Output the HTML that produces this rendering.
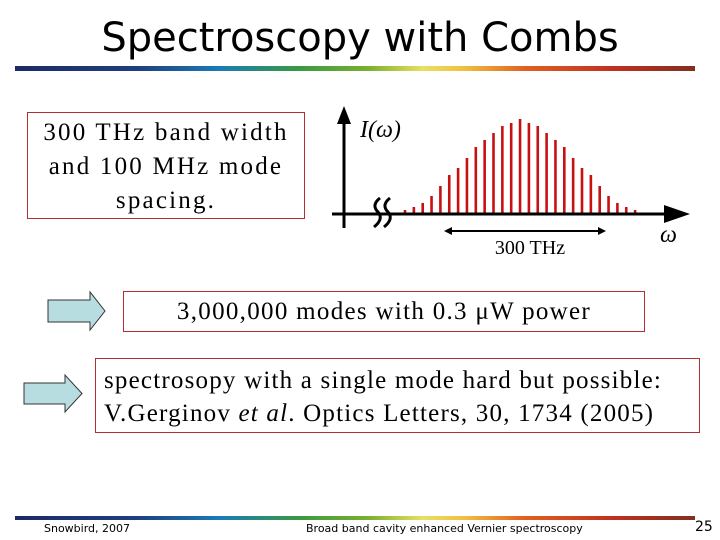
<!DOCTYPE html>
<html><head><meta charset="utf-8"><style>
body{margin:0;width:720px;height:540px;background:#fff;position:relative;overflow:hidden;font-family:"Liberation Serif",serif}
.a{position:absolute}
.box{position:absolute;border:1px solid #b03030;box-sizing:border-box;background:#fff}
.bar{background:linear-gradient(90deg,#1c2a66 0%,#1f3f80 18%,#1a7ab8 30%,#3a9a40 42%,#7ab030 52%,#e8e060 60%,#f0c040 66%,#e06020 75%,#c03020 88%,#803020 100%)}
.comic{font-family:"DejaVu Sans","Liberation Sans",sans-serif}
</style></head><body>
<div class="a comic" style="left:0;width:720px;top:13px;text-align:center;font-size:40px;line-height:50px;letter-spacing:0px">Spectroscopy with Combs</div>
<div class="a bar" style="left:15px;top:66px;width:680px;height:5px"></div>

<div class="box" style="left:27px;top:112px;width:278px;height:107px;font-size:25px;letter-spacing:2.2px;line-height:34px;text-align:center;padding-top:3px;white-space:nowrap">300 THz band width<br>and 100 MHz mode<br>spacing.</div>

<svg class="a" style="left:0;top:0" width="720" height="300">
<g id="comb"></g>
<line x1="344" y1="228" x2="344" y2="120" stroke="#000" stroke-width="3"/>
<polygon points="337,124 351,124 344,106" fill="#000"/>
<line x1="332" y1="214" x2="668" y2="214" stroke="#000" stroke-width="3"/>
<polygon points="664,205 664,223 690,214" fill="#000"/>
<path d="M380,198 q-9,7 -2,14 q6,7 -4,15 M390,198 q-9,7 -2,14 q6,7 -4,15" stroke="#000" stroke-width="3" fill="none"/>
<line x1="448" y1="231" x2="602" y2="231" stroke="#000" stroke-width="2"/>
<polygon points="444,231 452,227 452,235" fill="#000"/>
<polygon points="606,231 598,227 598,235" fill="#000"/>
<text x="360" y="137" font-family="Liberation Serif" font-style="italic" font-size="24">I(ω)</text>
<text x="660" y="242" font-family="Liberation Serif" font-style="italic" font-size="24">ω</text>
<text x="530" y="254" text-anchor="middle" font-family="Liberation Serif" font-size="20">300 THz</text>
</svg>

<svg class="a" style="left:0;top:0" width="720" height="540">
<polygon points="48,300 90,300 90,292 105,311 90,330 90,322 48,322" fill="#b8dde0" stroke="#333" stroke-width="1"/>
<polygon points="24,383 65,383 65,375 82,393.5 65,412 65,404 24,404" fill="#b8dde0" stroke="#333" stroke-width="1"/>
</svg>

<div class="box" style="left:123px;top:291px;width:522px;height:41px;font-size:25px;letter-spacing:1.3px;line-height:40px;text-align:center;white-space:nowrap">3,000,000 modes with 0.3 μW power</div>
<div class="box" style="left:95px;top:358px;width:605px;height:75px;font-size:25px;letter-spacing:1.2px;line-height:33px;padding:5px 0 0 8px;white-space:nowrap">spectrosopy with a single mode hard but possible:<br>V.Gerginov <i>et al</i>. Optics Letters, 30, 1734 (2005)</div>

<div class="a bar" style="left:15px;top:516px;width:680px;height:4px"></div>
<div class="a comic" style="left:44px;top:522px;font-size:11px">Snowbird, 2007</div>
<div class="a comic" style="left:306px;top:522px;font-size:11px">Broad band cavity enhanced Vernier spectroscopy</div>
<div class="a comic" style="left:695px;top:519px;font-size:14px">25</div>

<script>
const modeIndex=[0,1,2,3,4,5,6,7,8,9,10,11,12,13,14,15,16,17,18,19,20,21,22,23,24,25,26];
const intensity=[4,7,11,18,28,39,46,56,67,74,81,88,91,95,91,88,81,74,67,56,46,39,28,18,11,7,4];
const x0=405,dx=8.85,base=214;
const xScale=i=>x0+i*dx;
const yScale=v=>base-v;
const g=document.getElementById('comb');
modeIndex.forEach((m,i)=>{
 const l=document.createElementNS('http://www.w3.org/2000/svg','line');
 
 
 l.setAttribute('x1',xScale(m));l.setAttribute('x2',xScale(m));
 l.setAttribute('y1',base);l.setAttribute('y2',yScale(intensity[i]));
 l.setAttribute('stroke','#c81010');l.setAttribute('stroke-width','2.6');
 g.appendChild(l);
});
</script>
</body></html>
